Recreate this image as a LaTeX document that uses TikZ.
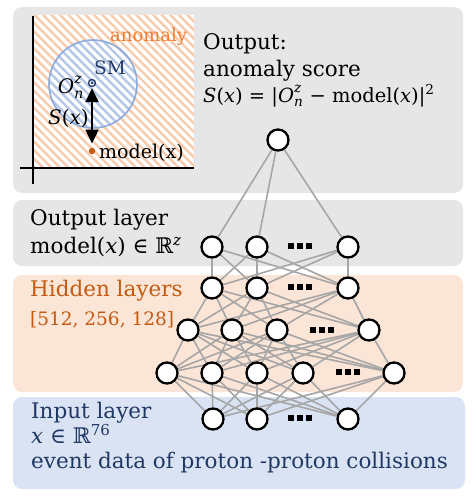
\RequirePackage{fix-cm}
\documentclass[tikz,border=0pt]{standalone}
\usepackage{amsmath,amssymb}
\usepackage{fontspec}
\setmainfont{DejaVu Serif}
\usetikzlibrary{arrows.meta,patterns.meta}
\definecolor{panelgray}{HTML}{E7E6E6}
\definecolor{peach}{HTML}{FBE5D6}
\definecolor{lblue}{HTML}{DAE3F3}
\definecolor{dorange}{HTML}{C55A11}
\definecolor{morange}{HTML}{ED7D31}
\definecolor{navy}{HTML}{203864}
\definecolor{stripeor}{HTML}{F8CBAD}
\definecolor{stripebl}{HTML}{B4C7E7}
\definecolor{circl}{HTML}{8FAADC}
\definecolor{edgegray}{HTML}{A6A6A6}
\newcommand{\threesq}{\rule{5.5pt}{5.5pt}\hspace{3.5pt}\rule{5.5pt}{5.5pt}\hspace{3.5pt}\rule{5.5pt}{5.5pt}}
\pgfdeclarelayer{bg}
\pgfdeclarelayer{edges}
\pgfsetlayers{bg,edges,main}
\begin{document}
\begin{tikzpicture}[x=1pt,y=-1pt,
  panel/.style={rounded corners=9pt},
  neuron/.style={circle,draw=black,line width=2.3pt,fill=white,minimum size=21pt,inner sep=0pt},
  ell/.style={inner sep=0pt},
  conn/.style={draw=edgegray,line width=1.6pt},
  lbl/.style={anchor=base west,inner sep=0pt,font=\fontsize{21.5}{26}\selectfont},
  inlbl/.style={inner sep=0pt,font=\fontsize{19}{22}\selectfont},
  hatch/.style={pattern={Lines[angle=-45,distance=6pt,line width=2.4pt]}},
  bigtip/.style={Triangle[width=15pt,length=15pt]},
]
\useasboundingbox (0,0) rectangle (474,498);
\begin{pgfonlayer}{bg}
\fill[panelgray,panel] (13,7) rectangle (463,193);
\fill[panelgray,panel] (13,200) rectangle (463,266);
\fill[peach,panel] (13,275) rectangle (463,392);
\fill[lblue,panel] (13,397) rectangle (465,489);
% inset
\fill[white] (33,15) rectangle (194,168);
\fill[hatch,pattern color=stripeor] (33,15) rectangle (194,168);
\fill[white] (93,84) circle[radius=44];
\fill[hatch,pattern color=stripebl] (93,84) circle[radius=44];
\draw[circl,line width=1.6pt] (93,84) circle[radius=44];
\coordinate (yt) at (33,16);
\coordinate (yb) at (33,184);
\coordinate (xl) at (20,168);
\coordinate (xr) at (194,168);
\draw[line width=1.8pt] (yb) -- (yt);
\draw[line width=1.8pt] (xl) -- (xr);
\end{pgfonlayer}

\node[circle,draw=navy,line width=1.3pt,minimum size=7pt,inner sep=0pt] (om) at (92,83) {};
\fill[navy] (om.center) circle[radius=1.3];
\node[circle,fill=dorange,minimum size=6.5pt,inner sep=0pt] (md) at (92,151) {};
\draw[line width=2.2pt,{Triangle[width=13pt,length=14pt]}-{Triangle[width=13pt,length=14pt]},shorten <=1pt,shorten >=4pt] (om.south) -- (md.north);
\node[anchor=base west,inner sep=0pt,text=morange,font=\fontsize{18}{20}\selectfont] (anom) at (110,41) {anomaly};
\node[anchor=west,inner sep=0pt,text=navy,font=\fontsize{18.5}{20}\selectfont] (sm) at (94,68) {SM};
\node[inlbl,anchor=east,font=\fontsize{20}{22}\selectfont] (olab) at (84,87) {$\textit{O}^{\textit{z}}_{\textit{n}}$};
\node[inlbl,anchor=east,font=\fontsize{20}{22}\selectfont] (slab) at (89,118) {\textit{S}(\textit{x})};
\node[inlbl,anchor=base west] (mlab) at (99,158) {model(x)};

% texts
\node[lbl] (out1) at (203,49) {Output:};
\node[lbl] (out2) at (203,76) {anomaly score};
\node[lbl,font=\fontsize{19.5}{24}\selectfont] (out3) at (203,102) {\textit{S}(\textit{x}) = |$\textit{O}^{\textit{z}}_{\textit{n}}$ − model(\textit{x})|$^{\text{2}}$};
\node[lbl] (ol1) at (30,225) {Output layer};
\node[lbl] (ol2) at (30,253) {model(\textit{x}) ∈ ℝ\textsuperscript{\itshape z}};
\node[lbl,text=dorange] (hl1) at (30,296) {Hidden layers};
\node[lbl,text=dorange,font=\fontsize{18.5}{22}\selectfont] (hl2) at (30,325) {[512, 256, 128]};
\node[lbl,text=navy] (il1) at (31,418) {Input layer};
\node[lbl,text=navy] (il2) at (31,443) {\textit{x} ∈ ℝ\textsuperscript{76}};
\node[lbl,text=navy] (il3) at (31,468) {event data of proton -proton collisions};

% network
\node[neuron] (t) at (278,140) {};
\foreach \n/\x in {1/212,2/257,3/348} \node[neuron] (a\n) at (\x,247) {};
\node[ell] (ad) at (300,246) {\threesq};
\foreach \n/\x in {1/212,2/257,3/348} \node[neuron] (b\n) at (\x,288) {};
\node[ell] (bd) at (300,287) {\threesq};
\foreach \n/\x in {1/188,2/232,3/277,4/369} \node[neuron] (c\n) at (\x,330) {};
\node[ell] (cd) at (322,330) {\threesq};
\foreach \n/\x in {1/167,2/212,3/257,4/303,5/394} \node[neuron] (d\n) at (\x,373) {};
\node[ell] (dd) at (348,372) {\threesq};
\foreach \n/\x in {1/213,2/257,3/348} \node[neuron] (e\n) at (\x,419) {};
\node[ell] (ed) at (300,418) {\threesq};

\begin{pgfonlayer}{edges}
\foreach \i in {1,2,3} \draw[conn] (t) -- (a\i);
\foreach \i in {1,2,3} \foreach \j in {1,2,3} \draw[conn] (a\i) -- (b\j);
\foreach \i in {1,2,3} \foreach \j in {1,2,3,4} \draw[conn] (b\i) -- (c\j);
\foreach \i in {1,2,3,4} \foreach \j in {1,2,3,4,5} \draw[conn] (c\i) -- (d\j);
\foreach \i in {1,2,3,4,5} \foreach \j in {1,2,3} \draw[conn] (d\i) -- (e\j);
\end{pgfonlayer}
\end{tikzpicture}
\end{document}
